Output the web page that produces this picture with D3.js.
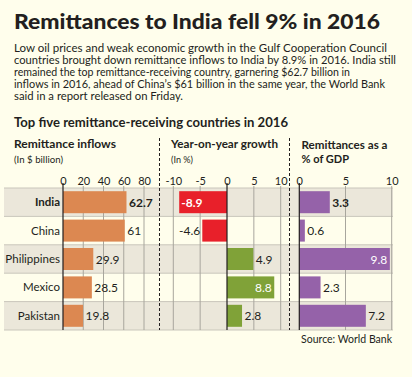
<!DOCTYPE html>
<html><head><meta charset="utf-8">
<script src="https://cdnjs.cloudflare.com/ajax/libs/d3/7.8.5/d3.min.js"></script>
<style>html,body{margin:0;padding:0;background:#fffeec;}svg{display:block;}</style>
</head><body><div id="chart"></div>
<script>
const countries = ["India", "China", "Philippines", "Mexico", "Pakistan"];
const inflows = [62.7, 61, 29.9, 28.5, 19.8];
const growth = [-8.9, -4.6, 4.9, 8.8, 2.8];
const gdpShare = [3.3, 0.6, 9.8, 2.3, 7.2];
const inflowTicks = [0, 20, 40, 60, 80];
const growthTicks = [-10, -5, 0, 5, 10];
const gdpTicks = [0, 5, 10];
const title = "Remittances to India fell 9% in 2016";
const paragraph = [
  "Low oil prices and weak economic growth in the Gulf Cooperation Council",
  "countries brought down remittance inflows to India by 8.9% in 2016. India still",
  "remained the top remittance-receiving country, garnering $62.7 billion in",
  "inflows in 2016, ahead of China\u2019s $61 billion in the same year, the World Bank",
  "said in a report released on Friday."
];
const subtitle = "Top five remittance-receiving countries in 2016";
const source = "Source: World Bank";

const W = 412, H = 377;
const FONT = "Lato, 'Open Sans', sans-serif";
const svg = d3.select("#chart").append("svg").attr("width", W).attr("height", H)
  .style("font-family", FONT);
svg.append("rect").attr("width", W).attr("height", H).attr("fill", "#fffeec");

// Header text
svg.append("text").attr("x", 14).attr("y", 29).text(title)
  .attr("font-size", 21).attr("font-weight", 900).attr("fill", "#231f20")
  .attr("textLength", 366).attr("lengthAdjust", "spacingAndGlyphs");
const paraW = [373, 382, 336, 371, 169];
paragraph.forEach((l, i) => {
  svg.append("text").attr("x", 14).attr("y", 52 + i * 12.1).text(l)
    .attr("font-size", 11.3).attr("fill", "#231f20")
    .attr("textLength", paraW[i]).attr("lengthAdjust", "spacingAndGlyphs");
});
svg.append("text").attr("x", 14).attr("y", 127).text(subtitle)
  .attr("font-size", 13).attr("font-weight", 700).attr("fill", "#231f20")
  .attr("textLength", 274).attr("lengthAdjust", "spacingAndGlyphs");

// rows
const y = d3.scaleBand().domain(countries).range([188, 330]).padding(0);
const bandL = 4, bandR = 393;
svg.selectAll("rect.row").data(countries).join("rect").attr("class", "row")
  .attr("x", bandL).attr("width", bandR - bandL)
  .attr("y", d => y(d)).attr("height", y.bandwidth())
  .attr("fill", (d, i) => i % 2 === 0 ? "#ebe7da" : "#fffeec");
svg.selectAll("line.sep").data(countries.concat(["_end"])).join("line").attr("class", "sep")
  .attr("x1", bandL).attr("x2", bandR)
  .attr("y1", (d, i) => 188 + i * y.bandwidth()).attr("y2", (d, i) => 188 + i * y.bandwidth())
  .attr("stroke", "#c9c6bb").attr("stroke-width", 1);

// row labels
svg.selectAll("text.cl").data(countries).join("text").attr("class", "cl")
  .attr("x", 60).attr("y", d => y(d) + y.bandwidth() / 2 + 4)
  .attr("text-anchor", "end").attr("font-size", 11.5)
  .attr("font-weight", (d, i) => i === 0 ? 700 : 400).attr("fill", "#231f20").text(d => d);

// dashed panel dividers
[159.5, 289.5].forEach(x => {
  svg.append("line").attr("x1", x).attr("x2", x).attr("y1", 138).attr("y2", 330)
    .attr("stroke", "#231f20").attr("stroke-width", 1).attr("stroke-dasharray", "3,2");
});

const barPad = 3.2;
function panel(opts) {
  const g = svg.append("g");
  const x = opts.scale;
  // gridlines
  g.selectAll("line.grid").data(opts.ticks.filter(t => t !== 0)).join("line")
    .attr("x1", d => x(d)).attr("x2", d => x(d)).attr("y1", 186).attr("y2", 330)
    .attr("stroke", "#a8a69d").attr("stroke-width", 1);
  // axis labels
  const ax = d3.axisTop(x).tickValues(opts.ticks).tickSize(0).tickPadding(0)
    .tickFormat(d => d3.format("d")(d).replace("\u2212", "-"));
  const axg = g.append("g").attr("transform", "translate(0,185)").call(ax);
  axg.select(".domain").remove();
  axg.selectAll("text").attr("font-size", 11).attr("font-family", FONT).attr("fill", "#231f20").attr("dy", 0);
  // bars
  g.selectAll("rect.bar").data(opts.values).join("rect")
    .attr("x", d => x(Math.min(0, d))).attr("width", d => Math.abs(x(d) - x(0)))
    .attr("y", (d, i) => y(countries[i]) + barPad).attr("height", y.bandwidth() - 2 * barPad)
    .attr("fill", (d, i) => opts.color(d, i));
  // zero line
  g.append("line").attr("x1", x(0)).attr("x2", x(0)).attr("y1", 183).attr("y2", 330)
    .attr("stroke", "#231f20").attr("stroke-width", 1.2);
  // labels
  g.selectAll("text.val").data(opts.values).join("text")
    .attr("y", (d, i) => y(countries[i]) + y.bandwidth() / 2 + 4.5)
    .attr("font-size", 12).attr("font-weight", (d, i) => i === 0 ? 700 : 400)
    .each(function (d, i) {
      const inside = opts.inside[i];
      const t = d3.select(this);
      if (d < 0) {
        if (inside) t.attr("x", x(d) + 2).attr("text-anchor", "start").attr("fill", "#fff");
        else t.attr("x", x(d) - 2).attr("text-anchor", "end").attr("fill", "#231f20");
      } else {
        if (inside) t.attr("x", x(d) - 2.5).attr("text-anchor", "end").attr("fill", "#fff");
        else t.attr("x", x(d) + 2.5).attr("text-anchor", "start").attr("fill", "#231f20");
      }
    })
    .text(d => String(d));
  return g;
}

const x1 = d3.scaleLinear().domain([0, 80]).range([63, 144]);
const x2 = d3.scaleLinear().domain([-10, 10]).range([173.3, 280.7]);
const x3 = d3.scaleLinear().domain([0, 10]).range([299.3, 391.7]);

panel({ scale: x1, ticks: inflowTicks, values: inflows, color: () => "#dc8851",
  inside: [false, false, false, false, false] });
panel({ scale: x2, ticks: growthTicks, values: growth,
  color: d => d < 0 ? "#e8202a" : "#80a238",
  inside: [true, false, false, true, false] });
panel({ scale: x3, ticks: gdpTicks, values: gdpShare, color: () => "#9562a9",
  inside: [false, false, true, false, false] });

// panel headings
function heading(x, y0, txt, w, bold, size) {
  svg.append("text").attr("x", x).attr("y", y0).text(txt)
    .attr("font-size", size).attr("font-weight", bold ? 700 : 400).attr("fill", "#231f20")
    .attr("textLength", w).attr("lengthAdjust", "spacingAndGlyphs");
}
heading(14, 148, "Remittance inflows", 102, true, 11.5);
heading(14, 163, "(In $ billion)", 49, false, 10);
heading(171, 148, "Year-on-year growth", 107, true, 11.5);
heading(171, 163, "(In %)", 22, false, 10);
heading(301.5, 149, "Remittances as a", 86, true, 11.5);
heading(301.5, 163, "% of GDP", 47.5, true, 11.5);

svg.append("text").attr("x", 392).attr("y", 343).attr("text-anchor", "end")
  .attr("font-size", 10.5).attr("fill", "#231f20").text(source);
</script></body></html>
